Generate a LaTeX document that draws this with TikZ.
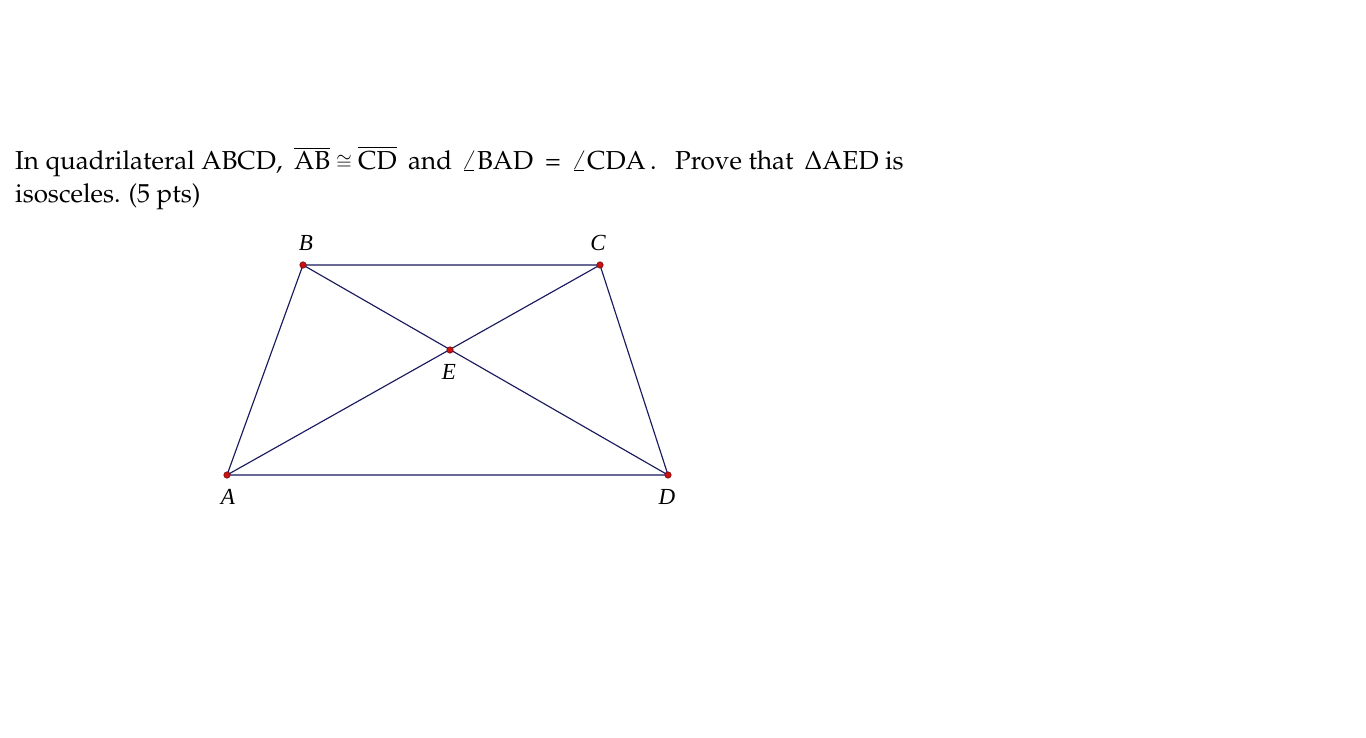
\documentclass[tikz,border=0pt]{standalone}
\usepackage{mathpazo}
\usepackage[no-math]{fontspec}
\newfontfamily\labfont{Liberation Serif}
\newcommand\palfont{\fontencoding{T1}\fontfamily{ppl}\selectfont}
\definecolor{edge}{HTML}{1A1A5E}
\definecolor{dotred}{HTML}{CC1111}
\begin{document}
\begin{tikzpicture}[x=1pt,y=-1pt,
  seg/.style={draw=edge,line width=1.15pt},
  pt/.style={circle,fill=dotred,draw=black!50!dotred,line width=0.5pt,inner sep=0pt,minimum size=6.5pt},
  lab/.style={font=\labfont\itshape\fontsize{23}{26}\selectfont,inner sep=0pt,anchor=base},
  txt/.style={font=\palfont\fontsize{26}{33}\selectfont,inner sep=0pt,anchor=base west}]
\useasboundingbox (0,0) rectangle (1366,738);
\fill[white] (0,0) rectangle (1366,738);
\node[txt] (t1) at (15,170) {In quadrilateral ABCD,};
\node[txt] (t2) at (294,170) {$\overline{\mathrm{AB}}$};
\node[txt,font=\palfont\fontsize{19}{20}\selectfont] (t3) at (336,169) {$\cong$};
\node[txt] (t4) at (358,170) {$\overline{\mathrm{CD}}$};
\node[txt] (t5) at (408,170) {and};
\node[txt] (t6) at (461,170) {$\angle$BAD};
\node[txt] (t7) at (545,170) {=};
\node[txt] (t8) at (571,170) {$\angle$CDA\,.};
\node[txt] (t9) at (675,170) {Prove that};
\node[txt] (t10) at (804,170) {$\Delta$AED is};
\node[txt] (line2) at (15,203) {isosceles. (5 pts)};
\coordinate (A) at (227,475);
\coordinate (B) at (303,265);
\coordinate (C) at (600,265);
\coordinate (D) at (668,475);
\coordinate (E) at (450,350);
\draw[seg] (A) -- (B) -- (C) -- (D) -- cycle;
\draw[seg] (A) -- (C);
\draw[seg] (B) -- (D);
\node[pt] (pA) at (A) {};
\node[pt] (pB) at (B) {};
\node[pt] (pC) at (C) {};
\node[pt] (pD) at (D) {};
\node[pt] (pE) at (E) {};
\node[lab] (lB) at (306,251) {B};
\node[lab] (lC) at (598,251) {C};
\node[lab] (lE) at (449,379) {E};
\node[lab] (lA) at (228,504) {A};
\node[lab] (lD) at (667,504) {D};
\end{tikzpicture}
\end{document}
